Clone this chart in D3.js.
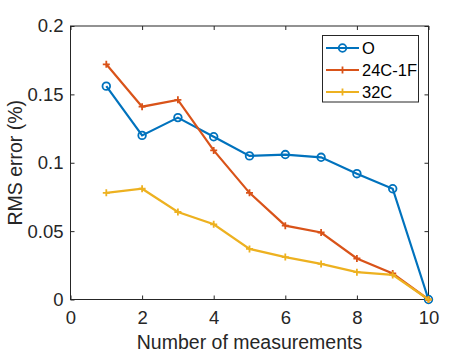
<!DOCTYPE html>
<html><head><meta charset="utf-8">
<script src="https://cdn.jsdelivr.net/npm/d3@7"></script>
<style>body{margin:0;background:#fff;} text{font-family:"Liberation Sans",Arial,sans-serif;}</style>
</head><body>
<svg id="c" width="474" height="355"></svg>
<script>
const xVals = [1,2,3,4,5,6,7,8,9,10];
const seriesNames = ["O","24C-1F","32C"];
const seriesO = [0.156,0.120,0.133,0.119,0.105,0.106,0.104,0.092,0.081,0];
const series24C1F = [0.172,0.141,0.146,0.109,0.078,0.054,0.049,0.030,0.019,0];
const series32C = [0.078,0.081,0.064,0.055,0.037,0.031,0.026,0.020,0.018,0];
const xTicks = [0,2,4,6,8,10];
const yTicks = [0,0.05,0.1,0.15,0.2];
const colors = ["#0072BD","#D95319","#EDB120"];
const markers = ["circle","plus","plus"];
const allSeries = [seriesO, series24C1F, series32C];

const svg = d3.select("#c");
const L=70.5, R=428.5, T=26, B=299.5;
const x = d3.scaleLinear().domain([0,10]).range([L,R]);
const y = d3.scaleLinear().domain([0,0.2]).range([B,T]);
const axisColor="#262626";
const tickFs="18.5px", labelFs="19.5px", legFs="16.5px";

svg.append("rect").attr("x",L).attr("y",T).attr("width",R-L).attr("height",B-T)
  .attr("fill","none").attr("stroke",axisColor).attr("stroke-width",1);

const gx = svg.append("g").attr("transform",`translate(0,${B})`)
  .call(d3.axisBottom(x).tickValues(xTicks).tickSizeInner(-4).tickSizeOuter(0).tickPadding(11).tickFormat(d3.format("d")));
const gxt = svg.append("g").attr("transform",`translate(0,${T})`)
  .call(d3.axisTop(x).tickValues(xTicks).tickSizeInner(-4).tickSizeOuter(0).tickFormat(""));
const gy = svg.append("g").attr("transform",`translate(${L},0)`)
  .call(d3.axisLeft(y).tickValues(yTicks).tickSizeInner(-4).tickSizeOuter(0).tickPadding(7).tickFormat(d=>d===0?"0":String(+d.toFixed(2))));
const gyr = svg.append("g").attr("transform",`translate(${R},0)`)
  .call(d3.axisRight(y).tickValues(yTicks).tickSizeInner(-4).tickSizeOuter(0).tickFormat(""));
[gx,gxt,gy,gyr].forEach(g=>{
  g.select(".domain").remove();
  g.selectAll("line").attr("stroke",axisColor);
  g.selectAll("text").attr("fill",axisColor).style("font-size",tickFs).style("font-family","'Liberation Sans',Arial,sans-serif");
});

svg.append("text").attr("x",(L+R)/2).attr("y",349).attr("text-anchor","middle")
  .attr("fill",axisColor).style("font-size",labelFs).text("Number of measurements");
svg.append("text").attr("transform",`translate(22,${(T+B)/2}) rotate(-90)`).attr("text-anchor","middle")
  .attr("fill",axisColor).style("font-size",labelFs).text("RMS error (%)");

const line = d3.line().x((d,i)=>x(xVals[i])).y(d=>y(d));
function drawMarker(g, type, cx, cy, color){
  if(type==="circle"){
    g.append("circle").attr("cx",cx).attr("cy",cy).attr("r",3.8).attr("fill","none").attr("stroke",color).attr("stroke-width",1.8);
  } else {
    g.append("path").attr("d",`M${cx-3.5},${cy}H${cx+3.5}M${cx},${cy-3.5}V${cy+3.5}`).attr("stroke",color).attr("stroke-width",1.8);
  }
}
allSeries.forEach((s,k)=>{
  const g = svg.append("g");
  g.append("path").datum(s).attr("d",line).attr("fill","none").attr("stroke",colors[k]).attr("stroke-width",2.2);
  s.forEach((v,i)=>drawMarker(g, markers[k], x(xVals[i]), y(v), colors[k]));
});

const lg = svg.append("g");
lg.append("rect").attr("x",322.5).attr("y",35.5).attr("width",96).attr("height",66.5)
  .attr("fill","#fff").attr("stroke",axisColor).attr("stroke-width",1);
seriesNames.forEach((n,k)=>{
  const yy = 48 + k*22;
  lg.append("line").attr("x1",326).attr("x2",359).attr("y1",yy).attr("y2",yy).attr("stroke",colors[k]).attr("stroke-width",2.2);
  drawMarker(lg, markers[k], 342.5, yy, colors[k]);
  lg.append("text").attr("x",362).attr("y",yy+6).attr("fill","#000").style("font-size",legFs).text(n);
});
</script>
</body></html>
